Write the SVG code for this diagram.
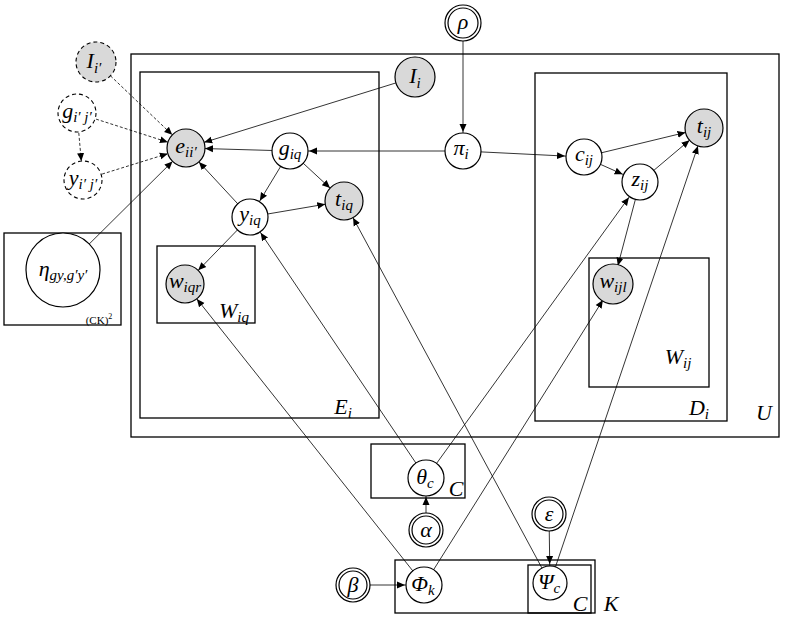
<svg xmlns="http://www.w3.org/2000/svg" width="787" height="624" viewBox="0 0 787 624">
<style>
.b{fill:none;stroke:#000;stroke-width:1.3}
.n{fill:#fff;stroke:#000;stroke-width:1.2}
.g{fill:#d9d9d9;stroke:#000;stroke-width:1.2}
.d{fill:#fff;stroke:#000;stroke-width:1.1;stroke-dasharray:4,3}
.dg{fill:#d9d9d9;stroke:#000;stroke-width:1.1;stroke-dasharray:4,3}
.e{stroke:#000;stroke-width:0.8;fill:none;marker-end:url(#a)}
.ed{stroke:#000;stroke-width:0.8;fill:none;stroke-dasharray:3,2;marker-end:url(#a)}
text{font-family:"Liberation Serif","DejaVu Serif",serif;font-style:italic;font-size:22px;text-anchor:middle;fill:#000}
.s{font-size:15px}
</style>
<defs>
<marker id="a" markerUnits="userSpaceOnUse" markerWidth="40" markerHeight="10" viewBox="0 -5 40 10" refX="27" refY="0" orient="auto"><path d="M0,-3.5 L8,0 L0,3.5z" fill="#000"/></marker>
</defs>
<rect fill="#fff" width="787" height="624"/>
<g id="plates">
<rect class="b" x="131" y="54" width="648" height="383"/>
<rect class="b" x="140" y="72" width="239" height="346"/>
<rect class="b" x="535" y="73" width="192" height="348"/>
<rect class="b" x="589" y="258" width="120" height="129"/>
<rect class="b" x="157" y="246" width="98" height="77"/>
<rect class="b" x="4" y="233" width="117" height="92"/>
<rect class="b" x="371" y="444" width="94" height="54"/>
<rect class="b" x="395" y="560" width="200" height="53"/>
<rect class="b" x="528" y="565" width="63" height="48"/>
<text x="343" y="414">E<tspan class="s" dy="4">i</tspan></text>
<text x="699" y="415">D<tspan class="s" dy="4">i</tspan></text>
<text x="764" y="420">U</text>
<text x="234" y="318">W<tspan class="s" dy="4">iq</tspan></text>
<text x="678" y="364">W<tspan class="s" dy="4">ij</tspan></text>
<text x="456" y="496">C</text>
<text x="580" y="611">C</text>
<text x="611" y="611">K</text>
<text x="99" y="324" style="font-size:11px;font-style:normal">(CK)<tspan dy="-5" style="font-size:8px">2</tspan></text>
</g>
<g id="connectors">
<line class="e" x1="463" y1="23" x2="463" y2="151"/>
<line class="e" x1="463" y1="151" x2="290" y2="151"/>
<line class="e" x1="463" y1="151" x2="584" y2="157"/>
<line class="e" x1="415" y1="77" x2="186" y2="148"/>
<line class="e" x1="290" y1="151" x2="186" y2="148"/>
<line class="e" x1="250" y1="217" x2="186" y2="148"/>
<line class="e" x1="290" y1="151" x2="250" y2="217"/>
<line class="e" x1="290" y1="151" x2="344" y2="201"/>
<line class="e" x1="250" y1="217" x2="344" y2="201"/>
<line class="e" x1="250" y1="217" x2="185" y2="284"/>
<line class="e" x1="584" y1="157" x2="704" y2="128"/>
<line class="e" x1="584" y1="157" x2="640" y2="182"/>
<line class="e" x1="640" y1="182" x2="704" y2="128"/>
<line class="e" x1="640" y1="182" x2="613" y2="284"/>
<line class="ed" x1="96" y1="62" x2="186" y2="148"/>
<line class="ed" x1="77" y1="113" x2="186" y2="148"/>
<line class="ed" x1="77" y1="113" x2="83" y2="180"/>
<line class="ed" x1="83" y1="180" x2="186" y2="148"/>
<line class="e" x1="63" y1="270" x2="186" y2="148"/>
<line class="e" x1="426" y1="478" x2="250" y2="217"/>
<line class="e" x1="426" y1="478" x2="640" y2="182"/>
<line class="e" x1="426" y1="530" x2="426" y2="478"/>
<line class="e" x1="353" y1="585" x2="424" y2="585"/>
<line class="e" x1="424" y1="585" x2="185" y2="284"/>
<line class="e" x1="424" y1="585" x2="613" y2="284"/>
<line class="e" x1="549" y1="514" x2="550" y2="583"/>
<line class="e" x1="550" y1="583" x2="344" y2="201"/>
<line class="e" x1="550" y1="583" x2="704" y2="128"/>
</g>
<g id="I_ip"><circle class="dg" cx="96" cy="62" r="20"/><text x="94" y="68">I<tspan class="s" dy="5">i′</tspan></text></g>
<g id="g_ipjp"><circle class="d" cx="77" cy="113" r="19"/><text x="77" y="118">g<tspan class="s" dy="4">i′ j′</tspan></text></g>
<g id="y_ipjp"><circle class="d" cx="83" cy="180" r="19"/><text x="83" y="185">y<tspan class="s" dy="4">i′ j′</tspan></text></g>
<g id="eta"><circle class="n" cx="63" cy="270" r="37"/><text x="63" y="276">η<tspan class="s" dy="4">gy,g′y′</tspan></text></g>
<g id="e_iip"><circle class="g" cx="186" cy="148" r="19"/><text x="186" y="153">e<tspan class="s" dy="4">ii′</tspan></text></g>
<g id="I_i"><circle class="g" cx="415" cy="77" r="20"/><text x="415" y="83">I<tspan class="s" dy="5">i</tspan></text></g>
<g id="g_iq"><circle class="n" cx="290" cy="151" r="18"/><text x="290" y="155">g<tspan class="s" dy="4">iq</tspan></text></g>
<g id="y_iq"><circle class="n" cx="250" cy="217" r="18"/><text x="250" y="221">y<tspan class="s" dy="4">iq</tspan></text></g>
<g id="t_iq"><circle class="g" cx="344" cy="201" r="19"/><text x="344" y="206">t<tspan class="s" dy="4">iq</tspan></text></g>
<g id="w_iqr"><circle class="g" cx="185" cy="284" r="19"/><text x="185" y="288">w<tspan class="s" dy="4">iqr</tspan></text></g>
<g id="pi_i"><circle class="n" cx="463" cy="151" r="18"/><text x="461" y="155">π<tspan class="s" dy="4">i</tspan></text></g>
<g id="rho"><circle class="n" cx="463" cy="23" r="18"/><circle class="n" cx="463" cy="23" r="15"/><text x="463" y="29">ρ</text></g>
<g id="c_ij"><circle class="n" cx="584" cy="157" r="18"/><text x="584" y="161">c<tspan class="s" dy="4">ij</tspan></text></g>
<g id="z_ij"><circle class="n" cx="640" cy="182" r="18"/><text x="640" y="186">z<tspan class="s" dy="4">ij</tspan></text></g>
<g id="t_ij"><circle class="g" cx="704" cy="128" r="19"/><text x="704" y="133">t<tspan class="s" dy="4">ij</tspan></text></g>
<g id="w_ijl"><circle class="g" cx="613" cy="284" r="20"/><text x="613" y="288">w<tspan class="s" dy="4">ijl</tspan></text></g>
<g id="theta_c"><circle class="n" cx="426" cy="478" r="18"/><text x="425" y="484">θ<tspan class="s" dy="4">c</tspan></text></g>
<g id="alpha"><circle class="n" cx="426" cy="530" r="17"/><circle class="n" cx="426" cy="530" r="14"/><text x="426" y="537">α</text></g>
<g id="Phi_k"><circle class="n" cx="424" cy="585" r="18"/><text x="423" y="591">Φ<tspan class="s" dy="4">k</tspan></text></g>
<g id="beta"><circle class="n" cx="353" cy="585" r="17"/><circle class="n" cx="353" cy="585" r="14"/><text x="353" y="592">β</text></g>
<g id="Psi_c"><circle class="n" cx="550" cy="583" r="17"/><text x="549" y="589">Ψ<tspan class="s" dy="4">c</tspan></text></g>
<g id="epsilon"><circle class="n" cx="549" cy="514" r="17"/><circle class="n" cx="549" cy="514" r="14"/><text x="549" y="521">ε</text></g>
</svg>
